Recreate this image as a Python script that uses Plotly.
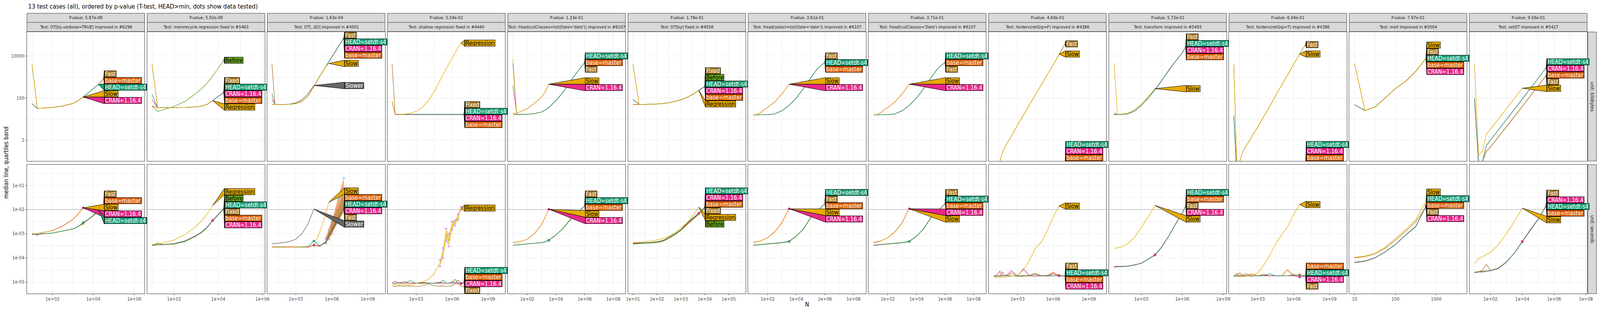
import math
import plotly.graph_objects as go
from plotly.subplots import make_subplots

TITLE = "13 test cases (all), ordered by p-value (T-test, HEAD>min, dots show data tested)"
Y_TITLE = "median line, quartiles band"
X_TITLE = "N"
ROW_STRIPS = ["unit: kilobytes", "unit: seconds"]

HEAD = "HEAD=setdt-s4"
CRAN = "CRAN=1.16.4"
BASE = "base=master"

COLORS = {HEAD: "#1B9E77", CRAN: "#E7298A", BASE: "#D95F02", "Fast": "#A6761D",
          "Fixed": "#A6761D", "Slow": "#E6AB02", "Regression": "#E6AB02",
          "Before": "#66A61E", "Slower": "#666666"}
DARK_TEXT = {"Slow", "Regression", "Before"}
DRAW_ORDER = ["Before", "Slower", BASE, "Fast", "Fixed", CRAN, HEAD, "Slow", "Regression"]
FONT = "Liberation Sans Narrow, DejaVu Sans Condensed, Liberation Sans, Arial, sans-serif"

# ---------------- panel 1
p1_pvalue = "P.value: 5.87e-08"
p1_test = "Test: DT[by,verbose=TRUE] improved in #6296"
p1_N = [10, 18, 32, 100, 316, 1000, 1778, 3162, 5623, 10000, 17783, 31623]
p1_kb_slow = [4000, 32, 33, 36, 42, 56, 75, 112]
p1_kb_cran = [54, 32, 33, 36, 42, 56, 75, 112]
p1_kb_head = [54, 32, 33, 36, 42, 56, 75, 112, 178, 280, 447]
p1_kb_base = [54, 32, 33, 36, 42, 56, 75, 112, 178, 280, 450, 850]
p1_kb_fast = [4000, 32, 33, 36, 42, 56, 75, 112, 178, 280, 450, 850]
p1_sec_slow = [0.00100, 0.00104, 0.00112, 0.00132, 0.00204, 0.0038, 0.0063, 0.0117]
p1_sec_cran = [0.00105, 0.00086, 0.00110, 0.00135, 0.00210, 0.0039, 0.0065, 0.0118]
p1_sec_head = [0.00093, 0.00096, 0.00100, 0.00107, 0.00130, 0.00160, 0.00200, 0.00290, 0.0040, 0.0058, 0.0102]
p1_sec_base = [0.00092, 0.00095, 0.00099, 0.00105, 0.00128, 0.00155, 0.00195, 0.00265, 0.0038, 0.0055, 0.0085, 0.014]
p1_sec_fast = [0.00093, 0.00096, 0.00100, 0.00106, 0.00129, 0.00157, 0.00197, 0.00270, 0.0039, 0.0056, 0.0086, 0.014]
p1_test_N = 3162
p1_kb_order = ["Fast", BASE, HEAD, "Slow", CRAN]
p1_sec_order = ["Fast", BASE, "Slow", CRAN, HEAD]

# ---------------- panel 2
p2_pvalue = "P.value: 5.92e-08"
p2_test = "Test: memrecycle regression fixed in #5463"
p2_N = [10, 18, 32, 100, 316, 1000, 1778, 3162, 5623, 10000, 17783]
p2_kb_regression = [4270, 35, 35, 35, 36, 38, 42, 50, 76]
p2_kb_fixed = [4270, 35, 35, 35, 36, 38, 42, 50, 76, 120, 190]
p2_kb_head = [151, 35, 35, 35, 36, 38, 42, 50, 76, 120, 190]
p2_kb_cran = [85, 35, 35, 35, 36, 38, 42, 50, 76, 120, 190]
p2_kb_base = [42, 35, 35, 35, 36, 38, 42, 50, 76, 120, 190]
p2_kb_before = [42, 23, 28, 40, 70, 170, 282, 525, 1120, 2630, 6310]
p2_sec_regression = [0.000355, 0.00038, 0.000417, 0.00055, 0.00093, 0.00204, 0.00347, 0.0066, 0.0148]
p2_sec_head = [0.00033, 0.000355, 0.000355, 0.00039, 0.0005, 0.00083, 0.00117, 0.00186, 0.00355, 0.0063, 0.011]
p2_sec_cran = [0.00034, 0.00036, 0.00036, 0.00039, 0.00051, 0.00085, 0.0012, 0.0019, 0.0036, 0.0064, 0.0112]
p2_sec_base = [0.00033, 0.00035, 0.00035, 0.00038, 0.00049, 0.00082, 0.00115, 0.00184, 0.0035, 0.0062, 0.0109]
p2_sec_fixed = [0.00032, 0.00035, 0.00035, 0.00038, 0.00049, 0.00081, 0.00114, 0.00182, 0.0035, 0.0062, 0.0108]
p2_sec_before = [0.00033, 0.00042, 0.00036, 0.00037, 0.00047, 0.0008, 0.00112, 0.0018, 0.0034, 0.006, 0.0106]
p2_test_N = 5623
p2_kb_order = ["Before", "Fixed", HEAD, CRAN, BASE, "Regression"]
p2_sec_order = ["Regression", "Before", HEAD, "Fixed", BASE, CRAN]

# ---------------- panel 3
p3_pvalue = "P.value: 1.63e-04"
p3_test = "Test: DT[,.SD] improved in #4501"
p3_N = [10, 18, 32, 100, 316, 1000, 3162, 10000, 31623, 100000, 316228, 562341, 1000000, 3162278, 10000000]
p3_kb_fast = [4270, 50, 50, 50, 51, 55, 69, 126, 355, 1120, 3160, 5300, 8900, 25000, 74000]
p3_kb_head = [166, 50, 50, 50, 51, 55, 69, 126, 355, 1120, 3160, 5300, 8900, 25000, 74000]
p3_kb_cran = [89, 50, 50, 50, 51, 55, 69, 126, 355, 1120, 3160, 5300, 8900, 25000, 74000]
p3_kb_base = [50, 50, 50, 50, 51, 55, 69, 126, 355, 1120, 3160, 5300, 8900, 25000, 74000]
p3_kb_slow = [50, 50, 50, 50, 51, 55, 69, 126, 355, 1120, 3160, 4470]
p3_kb_slower = [50, 50, 50, 50, 52, 60, 83, 158, 400]
p3_sec_slower = [0.00038, 0.00039, 0.0004, 0.00043, 0.00048, 0.00059, 0.001, 0.0025, 0.0105]
p3_sec_slow = [0.00028, 0.00028, 0.00028, 0.00028, 0.00028, 0.00029, 0.00029, 0.0003, 0.00032, 0.0012, 0.007, 0.02]
p3_sec_head = [0.00028, 0.00028, 0.00029, 0.00028, 0.00028, 0.00029, 0.00028, 0.00029, 0.0005, 0.00031, 0.00046, 0.0008, 0.0013, 0.004, 0.011]
p3_sec_cran = [0.00029, 0.00028, 0.00028, 0.00028, 0.00029, 0.00028, 0.00029, 0.00028, 0.00033, 0.00032, 0.00047, 0.00082, 0.00135, 0.0041, 0.0112]
p3_sec_base = [0.00028, 0.00029, 0.00028, 0.00029, 0.00028, 0.00028, 0.00028, 0.00029, 0.00034, 0.00031, 0.00048, 0.0009, 0.0015, 0.0045, 0.0115]
p3_sec_fast = [0.00028, 0.00028, 0.00028, 0.00028, 0.00028, 0.00029, 0.00028, 0.00028, 0.00033, 0.0003, 0.00044, 0.00075, 0.0012, 0.0038, 0.0108]
p3_band_N = [316228, 562341, 1000000, 3162278, 10000000]
p3_band_base_lo = [0.0004, 0.0006, 0.001, 0.003, 0.008]
p3_band_base_hi = [0.0006, 0.0013, 0.003, 0.03, 0.2]
p3_band_fast_lo = [0.0004, 0.0006, 0.001, 0.003, 0.009]
p3_band_fast_hi = [0.0007, 0.0015, 0.004, 0.012, 0.05]
p3_test_N = 31623
p3_kb_order = ["Fast", HEAD, CRAN, BASE, "Slow", "Slower"]
p3_sec_order = ["Slow", BASE, HEAD, CRAN, "Fast", "Slower"]

# ---------------- panel 4
p4_pvalue = "P.value: 5.59e-02"
p4_test = "Test: shallow regression fixed in #4440"
p4_N = [10, 18, 32, 100, 316, 1000, 3162, 10000, 31623, 100000, 177828, 316228, 562341,
        1000000, 1778279, 3162278, 5623413, 10000000]
p4_kb_regression = [68, 16.6, 16.6, 17, 19, 23.4, 35.5, 71, 200, 708, 1260, 2400, 4470, 7940, 14100, 25100, 41700]
p4_kb_fixed = [4270, 16.6, 16.6, 16.6, 16.6, 16.6, 16.6, 16.6, 16.6, 16.6, 16.6, 16.6, 16.6, 16.6, 16.6, 16.6, 16.6, 16.6]
p4_kb_head = [68, 16.6, 16.6, 16.6, 16.6, 16.6, 16.6, 16.6, 16.6, 16.6, 16.6, 16.6, 16.6, 16.6, 16.6, 16.6, 16.6, 16.6]
p4_sec_regression = [7.9e-6, 7.6e-6, 7.6e-6, 7.6e-6, 7.9e-6, 8.9e-6, 1.0e-5, 1.26e-5, 2.2e-5, 6.3e-5, 1.5e-4,
                     1.0e-3, 5.0e-4, 2.2e-3, 2.8e-3, 5.0e-3, 1.15e-2]
p4_sec_head = [9.0e-6, 8.6e-6, 9.5e-6, 9.0e-6, 1.15e-5, 9.0e-6, 8.7e-6, 9.2e-6, 8.8e-6, 9.0e-6, 1.2e-5, 9.0e-6,
               8.9e-6, 9.1e-6, 1.3e-5, 8.8e-6, 9.0e-6, 9.0e-6]
p4_sec_cran = [9.2e-6, 1.1e-5, 9.0e-6, 8.8e-6, 9.1e-6, 9.0e-6, 1.0e-5, 9.0e-6, 8.9e-6, 9.2e-6, 9.0e-6, 8.8e-6,
               9.0e-6, 1.05e-5, 9.0e-6, 9.1e-6, 8.9e-6, 9.0e-6]
p4_sec_base = [8.8e-6, 8.9e-6, 9.1e-6, 1.05e-5, 8.9e-6, 9.0e-6, 9.2e-6, 8.8e-6, 9.0e-6, 1.0e-5, 9.1e-6, 9.0e-6,
               8.8e-6, 9.0e-6, 9.0e-6, 1.2e-5, 8.5e-6, 8.9e-6]
p4_sec_fixed = [6.8e-6, 6.6e-6, 7.0e-6, 6.8e-6, 6.9e-6, 6.7e-6, 6.8e-6, 8.5e-6, 7.0e-6, 6.8e-6, 6.9e-6, 6.7e-6,
                6.8e-6, 7.0e-6, 9.0e-6, 8.5e-6, 6.8e-6, 6.8e-6]
p4_band_N = [100000, 177828, 316228, 562341, 1000000, 1778279, 3162278, 5623413]
p4_band_reg_lo = [4.5e-5, 1.0e-4, 5.0e-4, 3.0e-4, 1.5e-3, 2.2e-3, 3.8e-3, 9.5e-3]
p4_band_reg_hi = [8.0e-5, 2.5e-4, 1.6e-3, 1.0e-3, 3.2e-3, 3.6e-3, 6.5e-3, 1.3e-2]
p4_test_N = 5623413
p4_kb_order = ["Regression", "Fixed", HEAD, CRAN, BASE]
p4_sec_order = ["Regression", HEAD, BASE, CRAN, "Fixed"]

# ---------------- panel 5
p5_pvalue = "P.value: 1.33e-01"
p5_test = "Test: fread(colClasses=list(Date='date')) improved in #6107"
p5_N = [10, 18, 32, 100, 316, 1000, 1778, 3162, 10000, 31623, 100000, 316228, 1000000]
p5_kb_slow = [7240, 19.5, 22.4, 31.6, 56, 112, 200, 457]
p5_kb_cran = [407, 19.5, 22.4, 31.6, 56, 112, 200, 457]
p5_kb_head = [4470, 16.6, 16.6, 17, 18.2, 21.9, 27, 35.5, 76, 190, 631, 1780, 5000]
p5_kb_base = [16.6, 16.6, 16.6, 17, 18.2, 21.9, 27, 35.5, 76, 190, 631, 1780, 5000]
p5_kb_fast = [19.5, 16.6, 16.6, 17, 18.2, 21.9, 27, 35.5, 76, 190, 631, 1780, 5000]
p5_sec_slow = [0.00043, 0.00045, 0.00047, 0.00059, 0.001, 0.0024, 0.005, 0.0102]
p5_sec_cran = [0.00044, 0.00046, 0.00047, 0.0006, 0.00102, 0.0024, 0.0049, 0.0103]
p5_sec_head = [0.00033, 0.00035, 0.00035, 0.00038, 0.0004, 0.00043, 0.00047, 0.00054, 0.00089, 0.00166, 0.0038, 0.0076, 0.0141]
p5_sec_base = [0.00033, 0.00034, 0.00035, 0.00038, 0.0004, 0.00043, 0.00046, 0.00053, 0.00088, 0.0017, 0.0039, 0.0077, 0.0142]
p5_sec_fast = [0.00033, 0.00035, 0.00036, 0.00038, 0.00041, 0.00043, 0.00047, 0.00054, 0.0009, 0.00165, 0.0037, 0.0075, 0.014]
p5_test_N = 3162
p5_kb_order = [HEAD, BASE, "Fast", "Slow", CRAN]
p5_sec_order = ["Fast", HEAD, BASE, "Slow", CRAN]

# ---------------- panel 6
p6_pvalue = "P.value: 1.78e-01"
p6_test = "Test: DT[by] fixed in #4558"
p6_N = [10, 18, 32, 56, 100, 178, 316, 562, 1000, 1778, 3162, 5623, 10000]
p6_kb_regression = [4270, 50, 50, 51, 52.5, 55, 60, 69, 83, 107, 151, 234]
p6_kb_head = [85, 50, 50, 51, 52.5, 55, 60, 69, 83, 107, 151, 234, 355]
p6_kb_cran = [85, 50, 50, 51, 52.5, 55, 60, 69, 83, 107, 151, 234, 355]
p6_kb_base = [50, 50, 50, 51, 52.5, 55, 60, 69, 83, 107, 151, 234, 355]
p6_kb_fixed = [4270, 50, 50, 51, 52.5, 55, 60, 69, 83, 107, 151, 234, 355]
p6_kb_before = [50, 50, 50, 51, 52.5, 55, 60, 69, 83, 107, 151, 234, 355]
p6_sec_regression = [0.00043, 0.00044, 0.00047, 0.0005, 0.00055, 0.00063, 0.00079, 0.00112, 0.0017, 0.0028, 0.0056, 0.0126]
p6_sec_head = [0.00038, 0.0004, 0.00042, 0.00044, 0.00046, 0.00052, 0.00071, 0.001, 0.00148, 0.0028, 0.0045, 0.0071, 0.0126]
p6_sec_cran = [0.0004, 0.00041, 0.00043, 0.00044, 0.00047, 0.00053, 0.0007, 0.00098, 0.00145, 0.0026, 0.0043, 0.007, 0.0125]
p6_sec_base = [0.00042, 0.00043, 0.00041, 0.00044, 0.00046, 0.00051, 0.00069, 0.00097, 0.00142, 0.0025, 0.0042, 0.0068, 0.0124]
p6_sec_fixed = [0.00039, 0.0004, 0.00042, 0.00043, 0.00045, 0.0005, 0.00066, 0.00093, 0.0014, 0.0024, 0.004, 0.0066, 0.0122]
p6_sec_before = [0.00037, 0.00039, 0.0004, 0.00041, 0.00043, 0.00048, 0.00064, 0.0009, 0.00135, 0.0023, 0.0038, 0.0063, 0.012]
p6_test_N = 5623
p6_kb_order = ["Fixed", "Before", HEAD, CRAN, BASE, "Regression"]
p6_sec_order = [HEAD, CRAN, BASE, "Fixed", "Regression", "Before"]

# ---------------- panel 7
p7_pvalue = "P.value: 3.61e-01"
p7_test = "Test: fread(select=list(Date='date')) improved in #6107"
p7_N = [10, 18, 32, 56, 100, 316, 1000, 3162, 10000, 31623, 100000, 316228, 1000000]
p7_kb_slow = [15.8, 16.6, 20, 28, 35.5, 66, 158, 457]
p7_kb_cran = [15.8, 16.6, 20, 28.2, 35.5, 66, 158, 457]
p7_kb_head = [15.8, 15.8, 15.8, 15.8, 16.2, 17.8, 25, 44.7, 100, 282, 891, 2630, 5000]
p7_kb_base = [15.8, 15.8, 15.8, 15.8, 16.2, 17.8, 25, 44.7, 100, 282, 891, 2630, 5000]
p7_kb_fast = [15.8, 15.8, 15.8, 15.8, 16.2, 17.8, 25, 44.7, 100, 282, 891, 2630, 5000]
p7_sec_slow = [0.00043, 0.00046, 0.0005, 0.00058, 0.00068, 0.00117, 0.0028, 0.0107]
p7_sec_cran = [0.00044, 0.00047, 0.0005, 0.00059, 0.00069, 0.0012, 0.0029, 0.0108]
p7_sec_head = [0.00033, 0.00035, 0.00035, 0.00037, 0.00038, 0.0004, 0.00043, 0.00048, 0.00079, 0.00158, 0.0045, 0.0089, 0.0178]
p7_sec_base = [0.00033, 0.00034, 0.00035, 0.00036, 0.00038, 0.0004, 0.00042, 0.00047, 0.00078, 0.0016, 0.0046, 0.009, 0.018]
p7_sec_fast = [0.00034, 0.00035, 0.00036, 0.00037, 0.00038, 0.00041, 0.00043, 0.00049, 0.0008, 0.00155, 0.0044, 0.0088, 0.0176]
p7_test_N = 3162
p7_kb_order = ["Fast", HEAD, BASE, "Slow", CRAN]
p7_sec_order = [HEAD, "Fast", BASE, "Slow", CRAN]

# ---------------- panel 8
p8_pvalue = "P.value: 3.71e-01"
p8_test = "Test: fread(colClasses='Date') improved in #6107"
p8_N = [10, 18, 32, 56, 100, 316, 1000, 3162, 10000, 31623, 100000, 316228, 1000000]
p8_kb_slow = [15.8, 16.6, 20, 28, 35.5, 66, 158, 457]
p8_kb_cran = [15.8, 16.6, 20, 28, 35.5, 66, 160, 460]
p8_kb_head = [15.8, 15.8, 15.8, 15.8, 16.2, 17.8, 25, 44.7, 100, 282, 891, 2630, 5000]
p8_kb_base = [15.8, 15.8, 15.8, 15.8, 16.2, 17.8, 25, 44.7, 100, 282, 891, 2630, 5000]
p8_kb_fast = [15.8, 15.8, 15.8, 15.8, 16.2, 17.8, 25, 44.7, 100, 282, 891, 2630, 5000]
p8_sec_slow = [0.00042, 0.00045, 0.0005, 0.00058, 0.00068, 0.00118, 0.0028, 0.0107]
p8_sec_cran = [0.00043, 0.00046, 0.0005, 0.00059, 0.00069, 0.0012, 0.0029, 0.0108]
p8_sec_head = [0.00033, 0.00035, 0.00035, 0.00037, 0.00038, 0.0004, 0.00043, 0.00048, 0.00079, 0.0016, 0.0045, 0.0089, 0.0175]
p8_sec_base = [0.00033, 0.00034, 0.00035, 0.00036, 0.00038, 0.0004, 0.00042, 0.00047, 0.00078, 0.0016, 0.0046, 0.009, 0.0177]
p8_sec_fast = [0.00034, 0.00035, 0.00036, 0.00037, 0.00038, 0.00041, 0.00043, 0.00049, 0.0008, 0.00155, 0.0044, 0.0088, 0.0174]
p8_test_N = 3162
p8_kb_order = [HEAD, BASE, "Fast", "Slow", CRAN]
p8_sec_order = ["Fast", HEAD, BASE, CRAN, "Slow"]

# ---------------- panel 9
p9_pvalue = "P.value: 4.69e-01"
p9_test = "Test: forderv(retGrp=F) improved in #4386"
p9_N = [10, 18, 32, 56, 100, 316, 1000, 3162, 10000, 31623, 100000, 316228, 1000000, 3162278, 10000000]
p9_kb_slow = [0.028, 0.05, 0.093, 0.28, 0.56, 1.58, 5.2, 15.8, 46.8, 141, 417, 1260, 3800, 12600]
p9_kb_fast = [0.028, 0.05, 0.093, 0.28, 0.56, 1.58, 5.2, 15.8, 46.8, 141, 417, 1260, 3800, 12000, 38000]
p9_kb_head = [0.02, 0.02, 0.02, 0.02, 0.02, 0.02, 0.02, 0.02, 0.02, 0.02, 0.02, 0.02, 0.02, 0.02, 0.02]
p9_sec_slow = [1.5e-5, 1.55e-5, 1.58e-5, 1.58e-5, 1.58e-5, 1.78e-5, 1.9e-5, 3.2e-5, 7.9e-5, 2.5e-4, 4.5e-4, 1.3e-3, 5.0e-3, 0.0141]
p9_sec_head = [1.75e-5, 1.8e-5, 1.7e-5, 1.8e-5, 1.85e-5, 1.8e-5, 1.75e-5, 1.9e-5, 1.8e-5, 2.1e-5, 1.8e-5, 1.9e-5, 1.8e-5, 1.85e-5, 1.8e-5]
p9_sec_cran = [1.8e-5, 1.9e-5, 2.8e-5, 1.8e-5, 1.8e-5, 2.9e-5, 1.8e-5, 3.5e-5, 1.8e-5, 1.75e-5, 1.9e-5, 1.8e-5, 2.2e-5, 1.8e-5, 1.8e-5]
p9_sec_base = [1.8e-5, 1.8e-5, 1.75e-5, 1.9e-5, 1.8e-5, 1.8e-5, 1.85e-5, 1.8e-5, 1.9e-5, 2.3e-5, 1.8e-5, 1.8e-5, 2.5e-5, 1.9e-5, 1.8e-5]
p9_sec_fast = [1.7e-5, 1.75e-5, 1.8e-5, 2.6e-5, 1.75e-5, 2.4e-5, 1.7e-5, 1.75e-5, 1.8e-5, 1.75e-5, 1.8e-5, 1.75e-5, 1.8e-5, 1.8e-5, 1.75e-5]
p9_test_N = 3162278
p9_kb_order = ["Fast", "Slow", HEAD, CRAN, BASE]
p9_sec_order = ["Slow", "Fast", HEAD, BASE, CRAN]

# ---------------- panel 10
p10_pvalue = "P.value: 5.72e-01"
p10_test = "Test: transform improved in #5493"
p10_N = [10, 18, 32, 100, 316, 1000, 3162, 10000, 31623, 100000, 316228, 1000000, 1778279]
p10_kb_slow = [4470, 16.6, 17, 19, 28, 52.5, 117, 282]
p10_kb_head = [19.5, 16.6, 16.6, 17.8, 24, 44.7, 100, 251, 708, 2090, 5620, 14100, 28000]
p10_kb_cran = [16.6, 16.6, 16.6, 17.8, 24, 44.7, 100, 251, 708, 2090, 5620, 14100, 28000]
p10_kb_base = [16.6, 16.6, 16.6, 17.8, 24, 44.7, 100, 251, 708, 2090, 5620, 14100, 28000]
p10_kb_fast = [16.6, 16.6, 16.6, 17.8, 24, 44.7, 100, 251, 708, 2090, 5620, 14100, 28000]
p10_sec_slow = [0.000245, 0.00026, 0.00028, 0.00038, 0.00071, 0.0018, 0.005, 0.0148]
p10_sec_head = [4.2e-5, 4.3e-5, 4.4e-5, 4.5e-5, 5e-5, 6e-5, 8.9e-5, 1.32e-4, 2.8e-4, 7.9e-4, 2.5e-3, 7.1e-3, 0.0141]
p10_sec_cran = [4.1e-5, 4.4e-5, 4.3e-5, 4.6e-5, 5.1e-5, 6.1e-5, 9e-5, 1.35e-4, 2.9e-4, 8e-4, 2.5e-3, 7.2e-3, 0.0142]
p10_sec_base = [4.3e-5, 4.6e-5, 4.4e-5, 4.5e-5, 5.2e-5, 5.9e-5, 8.8e-5, 1.3e-4, 2.8e-4, 7.8e-4, 2.4e-3, 7e-3, 0.014]
p10_sec_fast = [4.2e-5, 4.4e-5, 4.5e-5, 4.6e-5, 5e-5, 6e-5, 8.9e-5, 1.3e-4, 2.75e-4, 7.8e-4, 2.45e-3, 7e-3, 0.0139]
p10_test_N = 10000
p10_kb_order = ["Fast", HEAD, CRAN, BASE, "Slow"]
p10_sec_order = [HEAD, BASE, "Fast", CRAN, "Slow"]

# ---------------- panel 11
p11_pvalue = "P.value: 6.04e-01"
p11_test = "Test: forderv(retGrp=T) improved in #4386"
p11_N = [10, 18, 32, 56, 100, 316, 1000, 3162, 10000, 31623, 100000, 316228, 1000000, 3162278, 10000000]
p11_kb_slow = [4070, 0.05, 0.1, 0.28, 0.5, 1.41, 4.17, 13.2, 39.8, 132, 417, 1260, 3980, 12600]
p11_kb_fast = [4070, 0.05, 0.1, 0.28, 0.5, 1.41, 4.17, 13.2, 39.8, 132, 417, 1260, 3980, 12600, 35500]
p11_kb_head = [14.5, 0.02, 0.02, 0.02, 0.02, 0.02, 0.02, 0.02, 0.02, 0.02, 0.02, 0.02, 0.02, 0.02, 0.02]
p11_sec_slow = [1.66e-5, 1.66e-5, 1.7e-5, 1.7e-5, 1.74e-5, 1.9e-5, 2.4e-5, 5e-5, 1.26e-4, 3.8e-4, 8.9e-4, 2e-3, 6.3e-3, 0.0162]
p11_sec_head = [1.8e-5, 1.85e-5, 1.8e-5, 2.1e-5, 1.8e-5, 1.8e-5, 1.85e-5, 1.8e-5, 2.2e-5, 1.8e-5, 1.85e-5, 1.8e-5, 1.9e-5, 1.8e-5, 1.8e-5]
p11_sec_cran = [1.8e-5, 1.8e-5, 1.75e-5, 1.8e-5, 1.8e-5, 1.75e-5, 1.8e-5, 1.8e-5, 1.8e-5, 1.8e-5, 1.85e-5, 1.8e-5, 1.8e-5, 1.6e-5, 1.8e-5]
p11_sec_base = [1.8e-5, 1.9e-5, 2.4e-5, 1.8e-5, 1.8e-5, 2.2e-5, 1.8e-5, 1.9e-5, 1.8e-5, 1.85e-5, 1.8e-5, 3.2e-5, 1.8e-5, 2.0e-5, 1.8e-5]
p11_sec_fast = [1.75e-5, 2.3e-5, 1.8e-5, 1.75e-5, 2.2e-5, 1.8e-5, 1.8e-5, 2.1e-5, 1.8e-5, 1.8e-5, 1.8e-5, 1.8e-5, 2.1e-5, 1.8e-5, 1.75e-5]
p11_test_N = 3162278
p11_kb_order = ["Fast", "Slow", HEAD, CRAN, BASE]
p11_sec_order = ["Slow", BASE, HEAD, CRAN, "Fast"]

# ---------------- panel 12
p12_pvalue = "P.value: 7.97e-01"
p12_test = "Test: melt improved in #5054"
p12_N = [10, 18, 32, 56, 100, 178, 316, 562]
p12_kb_slow = [4470, 25.7, 38, 100, 282, 631, 1900, 7940]
p12_kb_fast = [4470, 25.7, 38, 100, 282, 631, 1900, 7940]
p12_kb_head = [47.9, 25.7, 38, 100, 282, 631, 1900, 7940]
p12_sec_slow = [0.000107, 0.00012, 0.000158, 0.00028, 0.00063, 0.0015, 0.0038, 0.0224]
p12_sec_fast = [0.0001, 0.000112, 0.000145, 0.00025, 0.00054, 0.00126, 0.0032, 0.0126]
p12_sec_head = [6.5e-5, 7.4e-5, 1.02e-4, 1.78e-4, 3.55e-4, 8.9e-4, 2e-3, 0.0141]
p12_sec_cran = [6.3e-5, 7.2e-5, 1.0e-4, 1.75e-4, 3.5e-4, 8.7e-4, 1.95e-3, 0.0138]
p12_sec_base = [6.6e-5, 7.5e-5, 1.03e-4, 1.8e-4, 3.6e-4, 9e-4, 2.05e-3, 0.0143]
p12_test_N = 562
p12_kb_order = ["Slow", "Fast", HEAD, BASE, CRAN]
p12_sec_order = ["Slow", HEAD, BASE, "Fast", CRAN]

# ---------------- panel 13
p13_pvalue = "P.value: 9.56e-01"
p13_test = "Test: setDT improved in #5427"
p13_N = [10, 18, 32, 56, 100, 316, 1000, 3162, 10000, 31623, 100000, 316228]
p13_kb_slow = [4470, 0.19, 0.29, 1.95, 3.3, 10, 31, 95, 295]
p13_kb_head = [98, 0.09, 0.1, 0.56, 0.98, 3.0, 9.3, 29, 89, 282, 891, 2750]
p13_kb_fast = [98, 0.07, 0.1, 0.29, 0.46, 1.38, 4.3, 13, 40, 126, 380, 1175]
p13_sec_slow = [5.75e-5, 9.5e-5, 1.12e-4, 1.4e-4, 1.66e-4, 3.55e-4, 1e-3, 3.16e-3, 0.0115]
p13_sec_head = [2.5e-5, 2.6e-5, 2.7e-5, 2.8e-5, 2.95e-5, 3.7e-5, 6.6e-5, 1.58e-4, 4.7e-4, 1.41e-3, 4e-3, 0.0141]
p13_sec_cran = [2.4e-5, 2.6e-5, 2.6e-5, 2.8e-5, 2.9e-5, 3.6e-5, 6.5e-5, 1.6e-4, 4.8e-4, 1.45e-3, 4.1e-3, 0.0145]
p13_sec_base = [2.5e-5, 2.7e-5, 2.8e-5, 2.9e-5, 3e-5, 3.8e-5, 6.8e-5, 1.55e-4, 4.6e-4, 1.38e-3, 3.9e-3, 0.0138]
p13_sec_fast = [2.6e-5, 2.7e-5, 3.1e-5, 5.5e-5, 3.0e-5, 3.8e-5, 6.7e-5, 1.56e-4, 4.65e-4, 1.4e-3, 3.95e-3, 0.014]
p13_test_N = 10000
p13_kb_order = [HEAD, CRAN, BASE, "Fast", "Slow"]
p13_sec_order = ["Fast", CRAN, HEAD, BASE, "Slow"]

PANELS = [
    dict(pvalue=p1_pvalue, test=p1_test, N=p1_N, test_N=p1_test_N,
         kb={"Slow": p1_kb_slow, CRAN: p1_kb_cran, HEAD: p1_kb_head, BASE: p1_kb_base, "Fast": p1_kb_fast},
         sec={"Slow": p1_sec_slow, CRAN: p1_sec_cran, HEAD: p1_sec_head, BASE: p1_sec_base, "Fast": p1_sec_fast},
         kb_order=p1_kb_order, sec_order=p1_sec_order),
    dict(pvalue=p2_pvalue, test=p2_test, N=p2_N, test_N=p2_test_N,
         kb={"Regression": p2_kb_regression, "Fixed": p2_kb_fixed, HEAD: p2_kb_head, CRAN: p2_kb_cran,
             BASE: p2_kb_base, "Before": p2_kb_before},
         sec={"Regression": p2_sec_regression, "Fixed": p2_sec_fixed, HEAD: p2_sec_head, CRAN: p2_sec_cran,
              BASE: p2_sec_base, "Before": p2_sec_before},
         kb_order=p2_kb_order, sec_order=p2_sec_order),
    dict(pvalue=p3_pvalue, test=p3_test, N=p3_N, test_N=p3_test_N,
         kb={"Fast": p3_kb_fast, HEAD: p3_kb_head, CRAN: p3_kb_cran, BASE: p3_kb_base, "Slow": p3_kb_slow,
             "Slower": p3_kb_slower},
         sec={"Fast": p3_sec_fast, HEAD: p3_sec_head, CRAN: p3_sec_cran, BASE: p3_sec_base, "Slow": p3_sec_slow,
              "Slower": p3_sec_slower},
         kb_order=p3_kb_order, sec_order=p3_sec_order),
    dict(pvalue=p4_pvalue, test=p4_test, N=p4_N, test_N=p4_test_N,
         kb={"Regression": p4_kb_regression, "Fixed": p4_kb_fixed, HEAD: p4_kb_head, CRAN: p4_kb_head,
             BASE: p4_kb_head},
         sec={"Regression": p4_sec_regression, "Fixed": p4_sec_fixed, HEAD: p4_sec_head, CRAN: p4_sec_cran,
              BASE: p4_sec_base},
         kb_order=p4_kb_order, sec_order=p4_sec_order),
    dict(pvalue=p5_pvalue, test=p5_test, N=p5_N, test_N=p5_test_N,
         kb={"Slow": p5_kb_slow, CRAN: p5_kb_cran, HEAD: p5_kb_head, BASE: p5_kb_base, "Fast": p5_kb_fast},
         sec={"Slow": p5_sec_slow, CRAN: p5_sec_cran, HEAD: p5_sec_head, BASE: p5_sec_base, "Fast": p5_sec_fast},
         kb_order=p5_kb_order, sec_order=p5_sec_order),
    dict(pvalue=p6_pvalue, test=p6_test, N=p6_N, test_N=p6_test_N,
         kb={"Regression": p6_kb_regression, "Fixed": p6_kb_fixed, HEAD: p6_kb_head, CRAN: p6_kb_cran,
             BASE: p6_kb_base, "Before": p6_kb_before},
         sec={"Regression": p6_sec_regression, "Fixed": p6_sec_fixed, HEAD: p6_sec_head, CRAN: p6_sec_cran,
              BASE: p6_sec_base, "Before": p6_sec_before},
         kb_order=p6_kb_order, sec_order=p6_sec_order),
    dict(pvalue=p7_pvalue, test=p7_test, N=p7_N, test_N=p7_test_N,
         kb={"Slow": p7_kb_slow, CRAN: p7_kb_cran, HEAD: p7_kb_head, BASE: p7_kb_base, "Fast": p7_kb_fast},
         sec={"Slow": p7_sec_slow, CRAN: p7_sec_cran, HEAD: p7_sec_head, BASE: p7_sec_base, "Fast": p7_sec_fast},
         kb_order=p7_kb_order, sec_order=p7_sec_order),
    dict(pvalue=p8_pvalue, test=p8_test, N=p8_N, test_N=p8_test_N,
         kb={"Slow": p8_kb_slow, CRAN: p8_kb_cran, HEAD: p8_kb_head, BASE: p8_kb_base, "Fast": p8_kb_fast},
         sec={"Slow": p8_sec_slow, CRAN: p8_sec_cran, HEAD: p8_sec_head, BASE: p8_sec_base, "Fast": p8_sec_fast},
         kb_order=p8_kb_order, sec_order=p8_sec_order),
    dict(pvalue=p9_pvalue, test=p9_test, N=p9_N, test_N=p9_test_N,
         kb={"Slow": p9_kb_slow, "Fast": p9_kb_fast, HEAD: p9_kb_head, CRAN: p9_kb_head, BASE: p9_kb_head},
         sec={"Slow": p9_sec_slow, "Fast": p9_sec_fast, HEAD: p9_sec_head, CRAN: p9_sec_cran, BASE: p9_sec_base},
         kb_order=p9_kb_order, sec_order=p9_sec_order),
    dict(pvalue=p10_pvalue, test=p10_test, N=p10_N, test_N=p10_test_N,
         kb={"Slow": p10_kb_slow, HEAD: p10_kb_head, CRAN: p10_kb_cran, BASE: p10_kb_base, "Fast": p10_kb_fast},
         sec={"Slow": p10_sec_slow, HEAD: p10_sec_head, CRAN: p10_sec_cran, BASE: p10_sec_base,
              "Fast": p10_sec_fast},
         kb_order=p10_kb_order, sec_order=p10_sec_order),
    dict(pvalue=p11_pvalue, test=p11_test, N=p11_N, test_N=p11_test_N,
         kb={"Slow": p11_kb_slow, "Fast": p11_kb_fast, HEAD: p11_kb_head, CRAN: p11_kb_head, BASE: p11_kb_head},
         sec={"Slow": p11_sec_slow, "Fast": p11_sec_fast, HEAD: p11_sec_head, CRAN: p11_sec_cran,
              BASE: p11_sec_base},
         kb_order=p11_kb_order, sec_order=p11_sec_order),
    dict(pvalue=p12_pvalue, test=p12_test, N=p12_N, test_N=p12_test_N,
         kb={"Slow": p12_kb_slow, "Fast": p12_kb_fast, HEAD: p12_kb_head, CRAN: p12_kb_head, BASE: p12_kb_head},
         sec={"Slow": p12_sec_slow, "Fast": p12_sec_fast, HEAD: p12_sec_head, CRAN: p12_sec_cran,
              BASE: p12_sec_base},
         kb_order=p12_kb_order, sec_order=p12_sec_order),
    dict(pvalue=p13_pvalue, test=p13_test, N=p13_N, test_N=p13_test_N,
         kb={"Slow": p13_kb_slow, HEAD: p13_kb_head, CRAN: p13_kb_head, BASE: p13_kb_fast, "Fast": p13_kb_fast},
         sec={"Slow": p13_sec_slow, HEAD: p13_sec_head, CRAN: p13_sec_cran, BASE: p13_sec_base,
              "Fast": p13_sec_fast},
         kb_order=p13_kb_order, sec_order=p13_sec_order),
]

# quartile bands: (panel, row, expression, N, lower, upper)
BANDS = [
    (3, 2, BASE, p3_band_N, p3_band_base_lo, p3_band_base_hi),
    (3, 2, "Fast", p3_band_N, p3_band_fast_lo, p3_band_fast_hi),
    (4, 2, "Regression", p4_band_N, p4_band_reg_lo, p4_band_reg_hi),
]

TIME_LIMIT = 0.01

# axis layout per panel: log10 x range, major exponents, minor exponents
AXES = [
    (0.75, 6.51, [2, 4, 6], [1, 3, 5]),
    (0.78, 6.11, [2, 4, 6], [1, 3, 5]),
    (0.62, 10.44, [3, 6, 9], [1.5, 4.5, 7.5]),
    (0.62, 10.44, [3, 6, 9], [1.5, 4.5, 7.5]),
    (0.64, 8.85, [2, 4, 6, 8], [1, 3, 5, 7]),
    (0.79, 5.71, [1, 2, 3, 4, 5], [1.5, 2.5, 3.5, 4.5, 5.5]),
    (0.64, 8.87, [2, 4, 6, 8], [1, 3, 5, 7]),
    (0.64, 8.87, [2, 4, 6, 8], [1, 3, 5, 7]),
    (0.56, 10.48, [3, 6, 9], [1.5, 4.5, 7.5]),
    (0.62, 9.24, [3, 6, 9], [1.5, 4.5, 7.5]),
    (0.60, 10.44, [3, 6, 9], [1.5, 4.5, 7.5]),
    (0.87, 3.75, [1, 2, 3], [1.5, 2.5, 3.5]),
    (0.68, 8.08, [2, 4, 6, 8], [1, 3, 5, 7]),
]
Y_AXES = [
    (-1.0, 5.15, [0, 2, 4], ["1", "100", "10000"], [1, 3, 5]),
    (-5.48, -0.14, [-5, -4, -3, -2, -1], ["1e-05", "1e-04", "1e-03", "1e-02", "1e-01"],
     [-4.5, -3.5, -2.5, -1.5, -0.5]),
]

# page geometry: the figure fills the window width (the page body keeps its 8px margin)
H = 784
ML, MR, MT, MB = 61, 25, 74, 39
NCOL = 13
HS = 8.25 / 5104
ROW_GAP = 9
PLOT_H = H - MT - MB
VS = ROW_GAP / PLOT_H
ROW_PX = (PLOT_H - ROW_GAP) / 2
LABEL_PX = 17

GRID = "#EBEBEB"
BORDER = "#333333"


def stack_labels(targets, h, lo, hi):
    groups = []
    for i, t in enumerate(targets):
        groups.append([i, 1, t])
        while len(groups) > 1:
            a, b = groups[-2], groups[-1]
            if (a[2] - (a[1] - 1) * h) - b[2] >= h:
                break
            first, n = a[0], a[1] + b[1]
            top = sum(targets[first + k] + k * h for k in range(n)) / n
            groups[-2:] = [[first, n, top]]
    pos = []
    for first, n, top in groups:
        pos += [top - k * h for k in range(n)]
    pos[0] = min(pos[0], hi - h / 2)
    for i in range(1, len(pos)):
        pos[i] = min(pos[i], pos[i - 1] - h)
    pos[-1] = max(pos[-1], lo + h / 2)
    for i in range(len(pos) - 2, -1, -1):
        pos[i] = max(pos[i], pos[i + 1] + h)
    return pos


def tick_text(e, col):
    if col == 12:
        return str(int(round(10 ** e)))
    return "1e+%02d" % e


def py(page_y):
    return (H - MB - (page_y - 8)) / PLOT_H


fig = make_subplots(rows=2, cols=NCOL, horizontal_spacing=HS, vertical_spacing=VS)

for c, p in enumerate(PANELS, start=1):
    xlo, xhi, xmaj, xmin_ = AXES[c - 1]
    for r, key in ((1, "kb"), (2, "sec")):
        ylo, yhi = Y_AXES[r - 1][0], Y_AXES[r - 1][1]
        n_ax = (r - 1) * NCOL + c
        sfx = "" if n_ax == 1 else str(n_ax)
        series = p[key]
        N = p["N"]

        if r == 2:
            fig.add_trace(go.Scatter(x=[10 ** xlo, 10 ** xhi], y=[TIME_LIMIT, TIME_LIMIT], mode="lines",
                                     line=dict(color="#B8B8B8", width=1.5), hoverinfo="skip",
                                     showlegend=False), row=r, col=c)

        for bp, br, name, bn, blo, bhi in BANDS:
            if bp == c and br == r:
                fig.add_trace(go.Scatter(x=bn + bn[::-1], y=bhi + blo[::-1], fill="toself",
                                         fillcolor=COLORS[name], opacity=0.5, line=dict(width=0),
                                         hoverinfo="skip", showlegend=False), row=r, col=c)

        for name in DRAW_ORDER:
            if name not in series:
                continue
            vals = series[name]
            fig.add_trace(go.Scatter(x=N[:len(vals)], y=vals, mode="lines",
                                     line=dict(color=COLORS[name], width=1.3),
                                     name=name, showlegend=False), row=r, col=c)

        if r == 2:
            k = N.index(p["test_N"])
            for name in (BASE, HEAD, CRAN):
                vals = series.get(name)
                if vals is not None and k < len(vals):
                    fig.add_trace(go.Scatter(x=[N[k]], y=[vals[k]], mode="markers",
                                             marker=dict(color=COLORS[name], size=6),
                                             showlegend=False), row=r, col=c)

        # direct labels
        h = LABEL_PX / (ROW_PX / (yhi - ylo))
        ends = {name: (math.log10(N[len(v) - 1]), math.log10(v[-1])) for name, v in series.items()}
        xlab = max(e[0] for e in ends.values()) + 0.006 * (xhi - xlo)
        order = p[key + "_order"]
        targets = [min(max(ends[n][1], ylo + h / 2), yhi - h / 2) for n in order]
        pos = stack_labels(targets, h, ylo, yhi)
        for name, yl in zip(order, pos):
            xe, ye = ends[name]
            fig.add_trace(go.Scatter(x=[10 ** xe, 10 ** xlab, 10 ** xlab, 10 ** xe],
                                     y=[10 ** ye, 10 ** (yl + h / 2), 10 ** (yl - h / 2), 10 ** ye],
                                     fill="toself", fillcolor=COLORS[name], mode="lines",
                                     line=dict(color="black", width=1), hoverinfo="skip",
                                     showlegend=False), row=r, col=c)
            fig.add_annotation(x=xlab, y=yl, xref="x" + sfx, yref="y" + sfx, text=name,
                               showarrow=False, xanchor="left", yanchor="middle",
                               bgcolor=COLORS[name], bordercolor="black", borderwidth=1, borderpad=1,
                               height=LABEL_PX - 4,
                               font=dict(family=FONT, size=15,
                                         color="black" if name in DARK_TEXT else "white"))

        # axes
        fig.update_xaxes(type="log", range=[xlo, xhi], tickmode="array",
                         tickvals=[10 ** e for e in xmaj], ticktext=[tick_text(e, c) for e in xmaj],
                         showticklabels=(r == 2), ticks="outside" if r == 2 else "",
                         ticklen=3, tickcolor=BORDER,
                         tickfont=dict(family=FONT, size=12, color="#4D4D4D"),
                         showgrid=True, gridcolor=GRID, gridwidth=1,
                         minor=dict(tickmode="array", tickvals=[10 ** e for e in xmin_], showgrid=True,
                                    gridcolor=GRID, gridwidth=0.6),
                         showline=True, mirror=True, linecolor=BORDER, linewidth=1,
                         zeroline=False, automargin=False, row=r, col=c)
        ylo_, yhi_, ymaj, ytxt, ymin_ = Y_AXES[r - 1]
        fig.update_yaxes(type="log", range=[ylo_, yhi_], tickmode="array",
                         tickvals=[10 ** e for e in ymaj], ticktext=ytxt,
                         showticklabels=(c == 1), ticks="outside" if c == 1 else "",
                         ticklen=3, tickcolor=BORDER,
                         tickfont=dict(family=FONT, size=12, color="#4D4D4D"),
                         showgrid=True, gridcolor=GRID, gridwidth=1,
                         minor=dict(tickmode="array", tickvals=[10 ** e for e in ymin_], showgrid=True,
                                    gridcolor=GRID, gridwidth=0.6),
                         showline=True, mirror=True, linecolor=BORDER, linewidth=1,
                         zeroline=False, automargin=False, row=r, col=c)

# facet strips
shapes = []
for c, p in enumerate(PANELS, start=1):
    dom = fig.layout["xaxis" if c == 1 else "xaxis%d" % c].domain
    for (y0, y1), text in (((34, 57.5), p["pvalue"]), ((57.5, 81), p["test"])):
        shapes.append(dict(type="rect", xref="paper", yref="paper", x0=dom[0], x1=dom[1],
                           y0=py(y1), y1=py(y0), fillcolor="#D9D9D9", line=dict(color=BORDER, width=1)))
        fig.add_annotation(x=(dom[0] + dom[1]) / 2, y=py((y0 + y1) / 2), xref="paper", yref="paper",
                           text=text, showarrow=False, xanchor="center", yanchor="middle",
                           font=dict(family=FONT, size=11, color="#1A1A1A"))

for r, text in enumerate(ROW_STRIPS, start=1):
    dom = fig.layout["yaxis" if r == 1 else "yaxis%d" % ((r - 1) * NCOL + 1)].domain
    shapes.append(dict(type="rect", xref="paper", yref="paper", xsizemode="pixel", xanchor=1,
                       x0=2, x1=24, y0=dom[0], y1=dom[1], fillcolor="#D9D9D9",
                       line=dict(color=BORDER, width=1)))
    fig.add_annotation(x=1, y=(dom[0] + dom[1]) / 2, xref="paper", yref="paper", xshift=13, text=text,
                       showarrow=False, textangle=90, xanchor="center", yanchor="middle",
                       font=dict(family=FONT, size=12, color="#1A1A1A"))

fig.add_annotation(x=0, y=py(17), xref="paper", yref="paper", xshift=1, text=TITLE, showarrow=False,
                   xanchor="left", yanchor="middle", font=dict(family=FONT, size=16, color="black"))
fig.add_annotation(x=0, y=0.5, xref="paper", yref="paper", xshift=-54, text=Y_TITLE, showarrow=False,
                   textangle=-90, xanchor="center", yanchor="middle",
                   font=dict(family=FONT, size=15, color="black"))
fig.add_annotation(x=0.5, y=py(781), xref="paper", yref="paper", text=X_TITLE, showarrow=False,
                   xanchor="center", yanchor="middle", font=dict(family=FONT, size=15, color="black"))

fig.update_layout(height=H, autosize=True, margin=dict(l=ML, r=MR, t=MT, b=MB),
                  paper_bgcolor="white", plot_bgcolor="white", shapes=shapes,
                  showlegend=False, font=dict(family=FONT))

fig.write_html("out.html")
